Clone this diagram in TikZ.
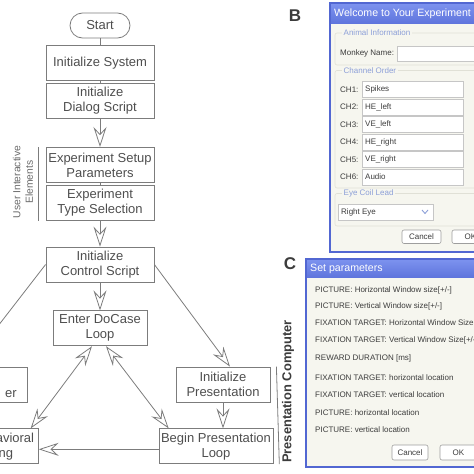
\documentclass[tikz,border=0pt]{standalone}
\usepackage{fontspec}
\setmainfont{Liberation Sans}
\usepackage{tikz}
\usetikzlibrary{positioning,arrows.meta}
\definecolor{FlowGray}{HTML}{7C7C7C}
\definecolor{FlowText}{HTML}{4E4E4E}
\definecolor{LabelGray}{HTML}{6A6A6A}
\definecolor{PanelText}{HTML}{3C3C3C}
\definecolor{DlgBlue}{HTML}{5267D2}
\definecolor{TitleTop}{HTML}{7D93EF}
\definecolor{TitleBottom}{HTML}{5F75DD}
\definecolor{DlgBody}{HTML}{F6F6EF}
\definecolor{GroupBlue}{HTML}{8C9FD8}
\definecolor{GroupLine}{HTML}{E0E0D6}
\definecolor{FieldLine}{HTML}{C6C6C6}

\begin{document}
\begin{tikzpicture}[
  x=1pt, y=-1pt,
  box/.style={rectangle, draw=FlowGray, line width=0.8pt, minimum width=108pt, minimum height=35pt, inner sep=2pt, align=center, text=FlowText, font=\fontsize{13}{15}\selectfont},
  boxNarrow/.style={box, minimum width=94pt},
  boxStart/.style={box, rounded corners=12.5pt, minimum width=60pt, minimum height=25pt},
  boxCut/.style={box, minimum width=0pt},
  link/.style={draw=FlowGray, line width=0.8pt},
  arr/.style={link, -{Stealth[open, length=20pt, width=13pt, inset=7pt]}},
  darr/.style={link, {Stealth[open, length=20pt, width=13pt, inset=7pt]}-{Stealth[open, length=20pt, width=13pt, inset=7pt]}},
  sidelabel/.style={text=LabelGray, rotate=90, align=center, font=\fontsize{10.3}{12.5}\selectfont},
  panel/.style={text=PanelText, font=\fontsize{17}{17}\selectfont\bfseries},
  dlgframe/.style={draw=DlgBlue, line width=1.5pt},
  dlgtitle/.style={anchor=west, text=white, inner sep=0pt, font=\fontsize{10.6}{12}\selectfont},
  dlgtxt/.style={anchor=west, text=PanelText, inner sep=0pt, font=\fontsize{8}{9.6}\selectfont},
  grplabel/.style={anchor=west, fill=DlgBody, text=GroupBlue, inner xsep=1.5pt, inner ysep=1pt, font=\fontsize{8}{9.6}\selectfont},
  grpline/.style={draw=GroupLine, line width=0.6pt, rounded corners=2pt},
  field/.style={draw=FieldLine, fill=white, line width=0.6pt},
  button/.style={draw=FieldLine!80!black, fill=white, line width=0.6pt, rounded corners=2pt}
]
\useasboundingbox (0,0) rectangle (474,474);
\clip (0,0) rectangle (474,474);

% flow chart
\node[boxStart]                      (start)    at (100,25.5) {Start};
\node[box, below=7pt of start]       (initsys)  {Initialize System};
\node[box, below=2pt of initsys]     (initdlg)  {Initialize\\Dialog Script};
\node[box, below=28pt of initdlg]    (setup)    {Experiment Setup\\Parameters};
\node[box, below=2pt of setup]       (typesel)  {Experiment\\Type Selection};
\node[box, below=26pt of typesel]    (initctrl) {Initialize\\Control Script};
\node[boxNarrow, below=28pt of initctrl] (docase) {Enter DoCase\\Loop};
\node[boxNarrow]                     (initpres) at (223,384.5) {Initialize\\Presentation};
\node[box, below=26pt of initpres, xshift=-7pt] (presloop) {Begin Presentation\\Loop};
\node[boxCut, left=120pt of presloop, text width=39pt, inner xsep=3.5pt, align=left] (behav) {avioral\\ing};
\node[boxCut, anchor=east, text width=100pt, inner xsep=11pt, align=right] (lbox) at (28,384.5) {\strut\\er};

\draw[link] (start) -- (initsys);
\draw[link] (initsys) -- (initdlg);
\draw[arr] (initdlg) -- (setup);
\draw[link] (setup) -- (typesel);
\draw[arr] (typesel) -- (initctrl);
\draw[arr] (initctrl) -- (docase);
\draw[arr] (initctrl.west) -- (lbox.north);
\draw[arr] (initctrl.east) -- ([xshift=7pt]initpres.north);
\draw[arr] (initpres) -- (initpres |- presloop.north);
\draw[arr] ([yshift=-3pt]presloop.west) -- ([yshift=-3pt]behav.east);
\draw[darr] ([xshift=-8pt]docase.south) -- ([xshift=-8pt]behav.north east);
\draw[darr] ([xshift=6pt]docase.south) -- ([xshift=10pt]presloop.north west);

% side brackets
\draw[link] ([xshift=-7pt]setup.north west) -- ([xshift=-7pt]typesel.south west);
\node[sidelabel] (uilabel) at (23,182) {User Interactive\\Elements};
\draw[link] ([xshift=6pt]initpres.north east) -- ([xshift=6pt]presloop.south east);
\node[sidelabel, text=PanelText, font=\fontsize{12.9}{14}\selectfont\bfseries] (pclabel) at (288,391.5) {Presentation Computer};

% dialog B
\node[panel] (labB) at (295,16) {B};
\fill[DlgBody] (330,3) rectangle (480,252);
\shade[top color=TitleTop, bottom color=TitleBottom] (330,3) rectangle (480,23);
\draw[dlgframe] (330,3) rectangle (480,252);
\node[dlgtitle] (titB) at (334,13.5) {Welcome to Your Experiment};

\draw[grpline] (335,33) rectangle (485,65);
\node[grplabel] (grpA) at (342,33) {Animal Information};
\node[dlgtxt] (mname) at (340,53.5) {Monkey Name:};
\draw[field] (397,46) rectangle (485,61);

\draw[grpline] (335,70.5) rectangle (485,188);
\node[grplabel] (grpC) at (342,70.5) {Channel Order};
\node[dlgtxt] (ch1) at (340,89.5) {CH1:};
\draw[field] (362,81.5) rectangle (463,97.5);
\node[dlgtxt] (ch1v) at (365,89.5) {Spikes};
\node[dlgtxt] (ch2) at (340,107) {CH2:};
\draw[field] (362,99) rectangle (463,115);
\node[dlgtxt] (ch2v) at (365,107) {HE\_left};
\node[dlgtxt] (ch3) at (340,124.5) {CH3:};
\draw[field] (362,116.5) rectangle (463,132.5);
\node[dlgtxt] (ch3v) at (365,124.5) {VE\_left};
\node[dlgtxt] (ch4) at (340,142) {CH4:};
\draw[field] (362,134) rectangle (463,150);
\node[dlgtxt] (ch4v) at (365,142) {HE\_right};
\node[dlgtxt] (ch5) at (340,159.5) {CH5:};
\draw[field] (362,151.5) rectangle (463,167.5);
\node[dlgtxt] (ch5v) at (365,159.5) {VE\_right};
\node[dlgtxt] (ch6) at (340,177) {CH6:};
\draw[field] (362,169) rectangle (463,185);
\node[dlgtxt] (ch6v) at (365,177) {Audio};

\draw[grpline] (335,193.5) rectangle (485,226);
\node[grplabel] (grpE) at (342,193.5) {Eye Coil Lead};
\draw[field] (338,204) rectangle (433,220);
\node[dlgtxt] (eye) at (341,212) {Right Eye};
\draw[GroupBlue, line width=0.9pt] (422,210) -- (425,213.5) -- (428,210);
\draw[button] (402,230) rectangle (441,243.5);
\node[dlgtxt, anchor=center] (cancelB) at (421.5,236.8) {Cancel};
\draw[button] (452,230) rectangle (489,243.5);
\node[dlgtxt, anchor=center] (okB) at (470.5,236.8) {OK};

% dialog C
\node[panel] (labC) at (290,264) {C};
\fill[DlgBody] (306,259) rectangle (480,467);
\shade[top color=TitleTop, bottom color=TitleBottom] (306,259) rectangle (480,277);
\draw[dlgframe] (306,259) rectangle (480,467);
\node[dlgtitle] (titC) at (310,268.5) {Set parameters};
\node[dlgtxt] (p1) at (315,290) {PICTURE: Horizontal Window size[+/-]};
\node[dlgtxt] (p2) at (315,306) {PICTURE: Vertical Window size[+/-]};
\node[dlgtxt] (p3) at (315,323) {FIXATION TARGET: Horizontal Window Size[+/-]};
\node[dlgtxt] (p4) at (315,340) {FIXATION TARGET: Vertical Window Size[+/-]};
\node[dlgtxt] (p5) at (315,358) {REWARD DURATION [ms]};
\node[dlgtxt] (p6) at (315,378) {FIXATION TARGET: horizontal location};
\node[dlgtxt] (p7) at (315,394.5) {FIXATION TARGET: vertical location};
\node[dlgtxt] (p8) at (315,413) {PICTURE: horizontal location};
\node[dlgtxt] (p9) at (315,430) {PICTURE: vertical location};
\draw[button] (392,445) rectangle (428,460);
\node[dlgtxt, anchor=center] (cancelC) at (410,452.5) {Cancel};
\draw[button] (440,445) rectangle (477,460);
\node[dlgtxt, anchor=center] (okC) at (458.5,452.5) {OK};
\end{tikzpicture}
\end{document}
